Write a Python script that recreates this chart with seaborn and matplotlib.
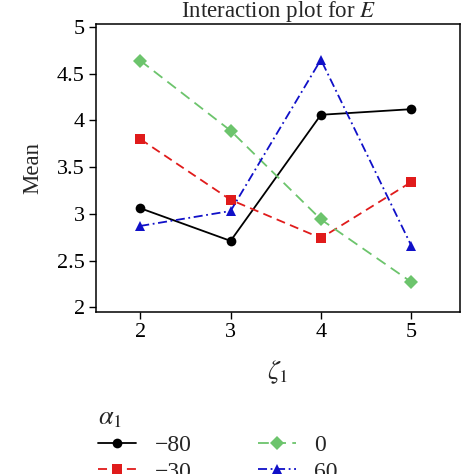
import pandas as pd
import matplotlib
matplotlib.use("Agg")
import matplotlib.pyplot as plt
import seaborn as sns

# data
zeta_levels = [2, 3, 4, 5]
alpha_labels = ["\u221280", "\u221230", "0", "60"]
mean_m80 = [3.06, 2.71, 4.06, 4.12]
mean_m30 = [3.80, 3.15, 2.74, 3.34]
mean_0 = [4.64, 3.89, 2.94, 2.27]
mean_60 = [2.87, 3.03, 4.65, 2.66]

df = pd.DataFrame({
    "zeta": zeta_levels * 4,
    "alpha": [a for a in alpha_labels for _ in zeta_levels],
    "mean": mean_m80 + mean_m30 + mean_0 + mean_60,
})

sns.set_style("ticks")
plt.rcParams["font.family"] = ["Liberation Serif", "DejaVu Serif"]
plt.rcParams["mathtext.fontset"] = "stix"

palette = {"\u221280": "#000000", "\u221230": "#e01b1b", "0": "#6cc46c", "60": "#1010c8"}
markers = {"\u221280": "o", "\u221230": "s", "0": "D", "60": "^"}
dashes = {"\u221280": "", "\u221230": (5, 3), "0": (6, 3.5), "60": (5, 2, 1, 2)}

fig = plt.figure(figsize=(4.74, 4.74), dpi=100)
ax = fig.add_axes([0.2025, 0.342, 0.768, 0.607])

sns.lineplot(data=df, x="zeta", y="mean", hue="alpha", style="alpha",
             hue_order=alpha_labels, style_order=alpha_labels,
             palette=palette, markers=markers, dashes=dashes,
             markersize=7, markeredgewidth=0, linewidth=1.3, ax=ax)

ax.set_xlim(1.51, 5.54)
ax.set_ylim(1.95, 5.03)
ax.set_xticks(zeta_levels)
ax.set_yticks([2, 2.5, 3, 3.5, 4, 4.5, 5])
ax.set_yticklabels(["2", "2.5", "3", "3.5", "4", "4.5", "5"])
ax.tick_params(labelsize=16, length=5, width=1, direction="out",
               color="black", labelcolor="black", pad=3)
for s in ax.spines.values():
    s.set_visible(True)
    s.set_linewidth(1.1)
    s.set_color("black")

ax.set_title(r"Interaction plot for $E$", fontsize=16.5, pad=5)
ax.set_ylabel("Mean", fontsize=16.5, labelpad=10)
ax.set_xlabel(r"$\zeta_1$", fontsize=19, labelpad=12)

handles, labels = ax.get_legend_handles_labels()
ax.legend(handles, labels, title=r"$\alpha_1$", ncol=2, frameon=False,
          loc="upper left", bbox_to_anchor=(0.187, 0.16),
          bbox_transform=fig.transFigure, fontsize=17, title_fontsize=19,
          alignment="left", handlelength=1.6, columnspacing=2.8,
          labelspacing=0.2, handletextpad=0.8, borderaxespad=0)

fig.savefig("out.png", dpi=100)
